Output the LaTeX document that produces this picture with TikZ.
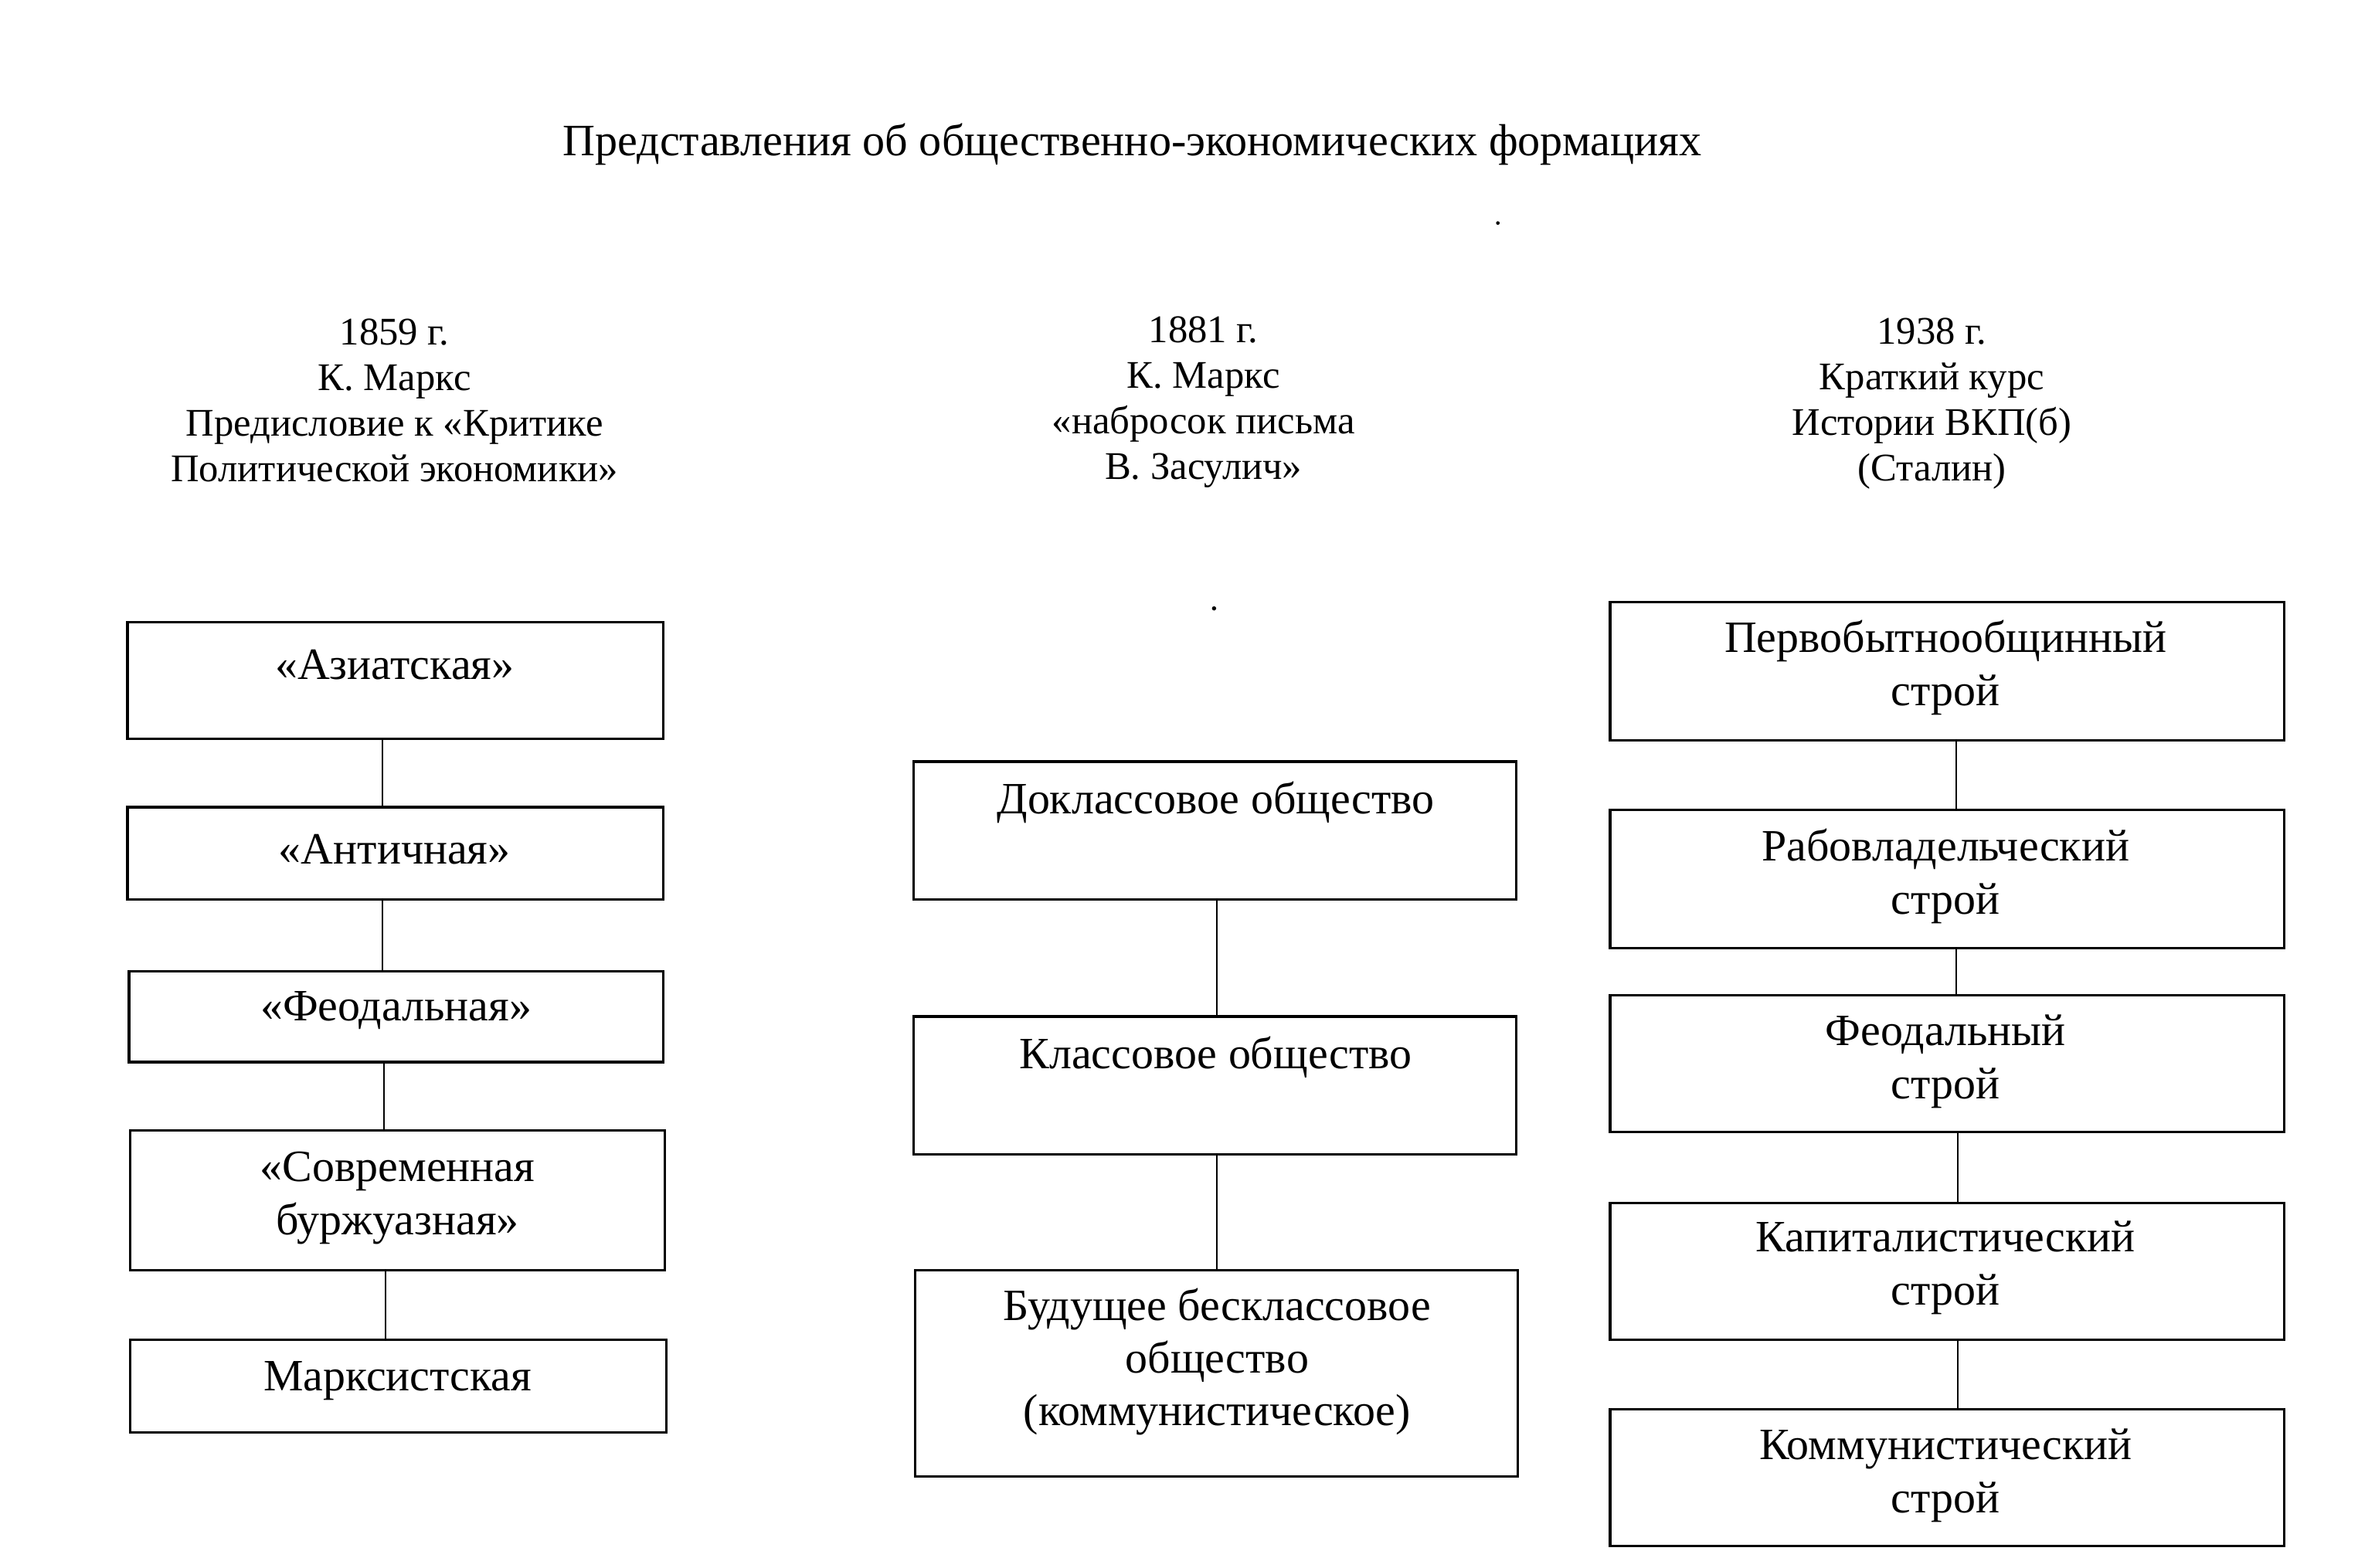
\documentclass[tikz,border=0pt]{standalone}
\usepackage{fontspec}
\setmainfont{Liberation Serif}
\begin{document}
\begin{tikzpicture}[x=1pt,y=-1pt,
  box/.style={draw=black,line width=1.6pt,minimum width=#1,inner sep=0pt},
  boxtxt/.style={font=\fontsize{29.5}{35}\selectfont,align=center,inner sep=0pt},
  head/.style={font=\fontsize{25.8}{30}\selectfont,align=center,inner sep=0pt},
  link/.style={draw=black,line width=1.1pt}]
\useasboundingbox[fill=white] (0,0) rectangle (1565,1033);
\node[font=\fontsize{29.6}{35}\selectfont,inner sep=0pt] (title) at (746,95) {Представления об общественно-экономических формациях};
\node[head] (h1) at (260,264) {1859 г.\\К. Маркс\\Предисловие к «Критике\\Политической экономики»};
\node[head] (h2) at (793,265) {1881 г.\\К. Маркс\\«набросок письма\\В. Засулич»};
\node[head] (h3) at (1273,266) {1938 г.\\Краткий курс\\Истории ВКП(б)\\(Сталин)};
% left column
\node[box=353pt,minimum height=77pt] (L1) at (260.5,448.5) {};
\node[box=353pt,minimum height=61pt] (L2) at (260.5,562.5) {};
\node[box=352pt,minimum height=60pt] (L3) at (261,670) {};
\node[box=352pt,minimum height=92pt] (L4) at (262,791) {};
\node[box=353pt,minimum height=61pt] (L5) at (262.5,913.5) {};
\node[boxtxt] (tL1) at (260,438) {«Азиатская»};
\node[boxtxt] (tL2) at (260,560) {«Античная»};
\node[boxtxt] (tL3) at (261,666) {«Феодальная»};
\node[boxtxt] (tL4) at (262,789.5) {«Современная\\буржуазная»};
\node[boxtxt] (tL5) at (262,910) {Марксистская};
\draw[link] (L1.south -| 252,0) -- (L2.north -| 252,0);
\draw[link] (L2.south -| 252,0) -- (L3.north -| 252,0);
\draw[link] (L3.south -| 253,0) -- (L4.north -| 253,0);
\draw[link] (L4.south -| 254,0) -- (L5.north -| 254,0);
% middle column
\node[box=397pt,minimum height=91pt] (M1) at (800.5,547.5) {};
\node[box=397pt,minimum height=91pt] (M2) at (800.5,715.5) {};
\node[box=397pt,minimum height=136pt] (M3) at (801.5,905) {};
\node[boxtxt] (tM1) at (801,529) {Доклассовое общество};
\node[boxtxt] (tM2) at (801,697) {Классовое общество};
\node[boxtxt,font=\fontsize{29.5}{34.5}\selectfont] (tM3) at (802,897.5) {Будущее бесклассовое\\общество\\(коммунистическое)};
\draw[link] (M1.south -| 802,0) -- (M2.north -| 802,0);
\draw[link] (M2.south -| 802,0) -- (M3.north -| 802,0);
% right column
\node[box=444pt,minimum height=91pt] (R1) at (1283,442.5) {};
\node[box=444pt,minimum height=91pt] (R2) at (1283,579.5) {};
\node[box=444pt,minimum height=90pt] (R3) at (1283,701) {};
\node[box=444pt,minimum height=90pt] (R4) at (1283,838) {};
\node[box=444pt,minimum height=90pt] (R5) at (1283,974) {};
\node[boxtxt] (tR1) at (1282,440) {Первобытнообщинный\\строй};
\node[boxtxt] (tR2) at (1282,577.5) {Рабовладельческий\\строй};
\node[boxtxt] (tR3) at (1282,699.5) {Феодальный\\строй};
\node[boxtxt] (tR4) at (1282,835.5) {Капиталистический\\строй};
\node[boxtxt] (tR5) at (1282,972.5) {Коммунистический\\строй};
\draw[link] (R1.south -| 1289,0) -- (R2.north -| 1289,0);
\draw[link] (R2.south -| 1289,0) -- (R3.north -| 1289,0);
\draw[link] (R3.south -| 1290,0) -- (R4.north -| 1290,0);
\draw[link] (R4.south -| 1290,0) -- (R5.north -| 1290,0);
% stray dots of the scan
\fill (987,147) circle (1.2pt);
\fill (800,401) circle (1.4pt);
\end{tikzpicture}
\end{document}
